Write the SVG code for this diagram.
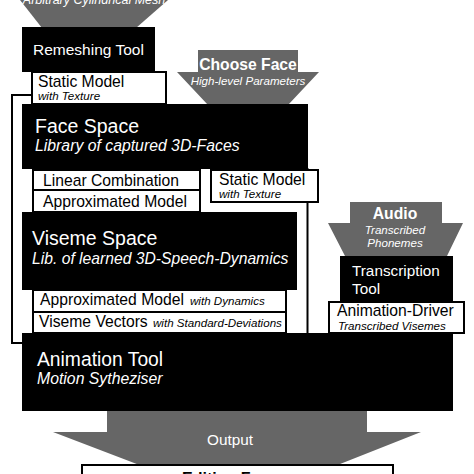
<svg xmlns="http://www.w3.org/2000/svg" width="474" height="474" viewBox="0 0 474 474">
<style>
.blk{fill:#000}
.wbox{fill:#fff;stroke:#000;stroke-width:2}
.arrow{fill:#666}
.conn{fill:none;stroke:#000;stroke-width:2}
text{font-family:"Liberation Sans",Arial,sans-serif}
.w{fill:#fff}
.k{fill:#000}
.t19{font-size:19.5px}
.t16{font-size:15.7px}
.i16{font-size:15.8px;font-style:italic}
.i12{font-size:11.6px;font-style:italic}
.b16{font-size:15.7px;font-weight:bold}
</style>
<rect width="474" height="474" fill="#fff"/>

<g id="input-arrow">
<polygon class="arrow" points="20,0 168,0 136,28 42,28"/>
<text class="w i12" x="94" y="4" text-anchor="middle" style="font-size:12.5px">Arbitrary Cylindrical Mesh</text>
</g>

<g id="choose-face">
<polygon class="arrow" points="198,50 298,50 298,72 319,72 288,105 208,105 177,72 198,72"/>
<text class="w b16" x="248" y="70" text-anchor="middle">Choose Face</text>
<text class="w i12" x="248" y="85" text-anchor="middle">High-level Parameters</text>
</g>

<g id="audio">
<polygon class="arrow" points="350,202 442,202 442,223 463,223 447,256 345,256 328,223 350,223"/>
<text class="w b16" x="395" y="219" text-anchor="middle">Audio</text>
<text class="w i12" x="395" y="234" text-anchor="middle">Transcribed</text>
<text class="w i12" x="395" y="247" text-anchor="middle">Phonemes</text>
</g>

<g id="output">
<polygon class="arrow" points="107,411 367,411 367,432 421,432 335,466 142,466 53,432 107,432"/>
<text class="w t16" x="230" y="445" text-anchor="middle" style="font-size:15.3px">Output</text>
</g>

<g id="connectors">
<polyline class="conn" points="32,95 12,95 12,343 22,343"/>
<line class="conn" x1="307.5" y1="168" x2="307.5" y2="334"/>
</g>

<g id="remeshing-tool">
<rect class="blk" x="22" y="27" width="133" height="45"/>
<text class="w t16" x="33" y="55" style="font-size:15.5px">Remeshing Tool</text>
</g>

<g id="face-space">
<rect class="blk" x="22" y="104" width="286" height="65"/>
<text class="w t19" x="35" y="133">Face Space</text>
<text class="w i16" x="35" y="151">Library of captured 3D-Faces</text>
</g>

<g id="static-model-1">
<rect class="wbox" x="32" y="72" width="134" height="32"/>
<text class="k t16" x="38" y="87">Static Model</text>
<text class="k i12" x="38" y="100">with Texture</text>
</g>

<g id="linear-combination">
<rect class="wbox" x="33" y="170" width="167" height="20"/>
<text class="k t16" x="43" y="186">Linear Combination</text>
</g>

<g id="approximated-model-1">
<rect class="wbox" x="33" y="190" width="167" height="22"/>
<text class="k t16" x="43" y="207">Approximated Model</text>
</g>

<g id="static-model-2">
<rect class="wbox" x="211" y="170" width="107" height="32"/>
<text class="k t16" x="219" y="185">Static Model</text>
<text class="k i12" x="219" y="198">with Texture</text>
</g>

<g id="viseme-space">
<rect class="blk" x="22" y="212" width="275" height="78"/>
<text class="w t19" x="32" y="245">Viseme Space</text>
<text class="w i16" x="32" y="264" style="font-size:15.7px">Lib. of learned 3D-Speech-Dynamics</text>
</g>

<g id="approximated-model-2">
<rect class="wbox" x="33" y="290" width="253" height="22"/>
<text class="k t16" x="40" y="305">Approximated Model</text>
<text class="k i12" x="190" y="305">with Dynamics</text>
</g>

<g id="viseme-vectors">
<rect class="wbox" x="33" y="312" width="253" height="21"/>
<text class="k t16" x="39" y="327">Viseme Vectors</text>
<text class="k i12" x="153" y="327">with Standard-Deviations</text>
</g>

<g id="transcription-tool">
<rect class="blk" x="340" y="256" width="113" height="46"/>
<text class="w t16" x="352" y="276" style="font-size:15.3px">Transcription</text>
<text class="w t16" x="352" y="294" style="font-size:15.3px">Tool</text>
</g>

<g id="animation-driver">
<rect class="wbox" x="329" y="302" width="135" height="31"/>
<text class="k t16" x="337" y="316">Animation-Driver</text>
<text class="k i12" x="338" y="330">Transcribed Visemes</text>
</g>

<g id="animation-tool">
<rect class="blk" x="22" y="333" width="431" height="78"/>
<text class="w t19" x="37" y="366" style="font-size:19.3px">Animation Tool</text>
<text class="w i16" x="37" y="384">Motion Sytheziser</text>
</g>

<g id="editing-faces">
<rect class="wbox" x="82" y="465" width="311" height="30"/>
<text class="k b16" x="182" y="483.5" style="font-size:16px">Editing Faces</text>
</g>
</svg>
